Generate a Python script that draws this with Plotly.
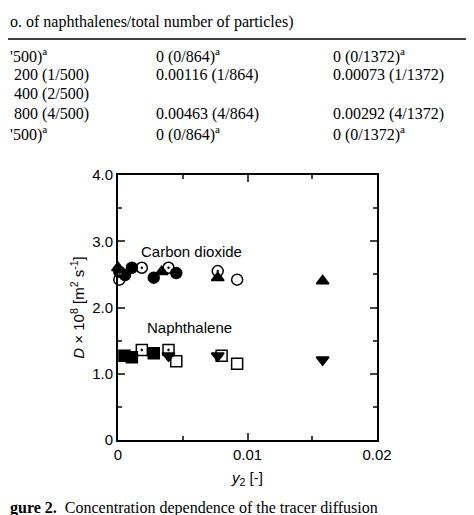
import plotly.graph_objects as go

co2_x = [0.0001, 0.0000, 0.0001, 0.00054, 0.00107, 0.00184, 0.00276, 0.00337, 0.0039, 0.0045, 0.0077, 0.0077, 0.0092, 0.0158]
co2_y = [2.42, 2.60, 2.54, 2.49, 2.60, 2.60, 2.45, 2.54, 2.60, 2.52, 2.45, 2.55, 2.42, 2.40]
co2_sym = ["circle-open", "triangle-up", "circle", "circle", "circle", "circle-open-dot", "circle", "triangle-up", "circle-open-dot", "circle", "triangle-up", "circle-open-dot", "circle-open", "triangle-up"]

nap_x = [0.0005, 0.00107, 0.00184, 0.00276, 0.0039, 0.0039, 0.0045, 0.0077, 0.0080, 0.0092, 0.0158]
nap_y = [1.27, 1.25, 1.36, 1.31, 1.36, 1.27, 1.19, 1.27, 1.27, 1.15, 1.21]
nap_sym = ["square", "square", "square-open-dot", "square", "square-open-dot", "triangle-down", "square-open", "triangle-down", "square-open-dot", "square-open", "triangle-down"]

table_rows = [
    ["'500)<sup>a</sup>", "0 (0/864)<sup>a</sup>", "0 (0/1372)<sup>a</sup>"],
    [" 200 (1/500)", "0.00116 (1/864)", "0.00073 (1/1372)"],
    [" 400 (2/500)", "", ""],
    [" 800 (4/500)", "0.00463 (4/864)", "0.00292 (4/1372)"],
    ["'500)<sup>a</sup>", "0 (0/864)<sup>a</sup>", "0 (0/1372)<sup>a</sup>"],
]

fig = go.Figure()
for xs, ys, syms in [(co2_x, co2_y, co2_sym), (nap_x, nap_y, nap_sym)]:
    fig.add_trace(go.Scatter(x=xs, y=ys, mode="markers", cliponaxis=False,
        marker=dict(symbol=syms, size=11, color="black", line=dict(color="black", width=1.5)),
        showlegend=False))

sans = dict(family="Liberation Sans, Arial", size=15, color="black")
ax = dict(showline=True, linecolor="black", linewidth=2, mirror="ticks", ticks="inside",
          ticklen=7, tickwidth=2, showgrid=False, zeroline=False, tickfont=sans)
fig.update_xaxes(**ax, range=[0, 0.02], tickvals=[0, 0.01, 0.02], ticktext=["0", "0.01", "0.02"],
                 minor=dict(ticks="inside", ticklen=4, tickwidth=2, dtick=0.005, tick0=0),
                 title=dict(text="<i>y</i><sub>2</sub> [-]", font=sans, standoff=10))
fig.update_yaxes(**ax, range=[0, 4.0], tickvals=[0, 1, 2, 3, 4], ticktext=["0", "1.0", "2.0", "3.0", "4.0"],
                 minor=dict(ticks="inside", ticklen=4, tickwidth=2, dtick=0.5, tick0=0),
                 title=dict(text="<i>D</i> × 10<sup>8</sup> [m<sup>2</sup> s<sup>-1</sup>]", font=sans, standoff=4))

fig.add_annotation(x=0.0057, y=2.84, text="Carbon dioxide", showarrow=False, xref="x", yref="y", font=sans)
fig.add_annotation(x=0.0055, y=1.7, text="Naphthalene", showarrow=False, xref="x", yref="y", font=sans)

serif = dict(family="Liberation Serif, Times New Roman", size=16, color="black")
W, H = 474, 515
ml, mr, mt, mb = 110, 105, 167, 83
pw, ph = W - ml - mr, H - mt - mb
def px(x): return (x - ml) / pw
def py(y): return (H - mb - y) / ph
fig.add_annotation(x=px(0), y=py(14), xref="paper", yref="paper", xanchor="left", yanchor="middle",
                   text="o. of naphthalenes/total number of particles)", showarrow=False, font=serif)
fig.add_shape(type="line", xref="paper", yref="paper", x0=px(0), x1=px(474), y0=py(31), y1=py(31), line=dict(color="black", width=1.5))
cols = [0, 146, 323]
rows_y = [47, 67, 86, 106, 125]
for r, row in zip(rows_y, table_rows):
    for c, t in zip(cols, row):
        if t:
            fig.add_annotation(x=px(c), y=py(r), xref="paper", yref="paper", xanchor="left", yanchor="middle",
                               text=t, showarrow=False, font=serif)
fig.add_annotation(x=px(0), y=py(500), xref="paper", yref="paper", xanchor="left", yanchor="middle",
                   text="<b>gure 2.</b>  Concentration dependence of the tracer diffusion",
                   showarrow=False, font=serif)

fig.update_layout(width=W, height=H, margin=dict(l=ml, r=mr, t=mt, b=mb),
                  plot_bgcolor="white", paper_bgcolor="white")
fig.write_html("out.html")
